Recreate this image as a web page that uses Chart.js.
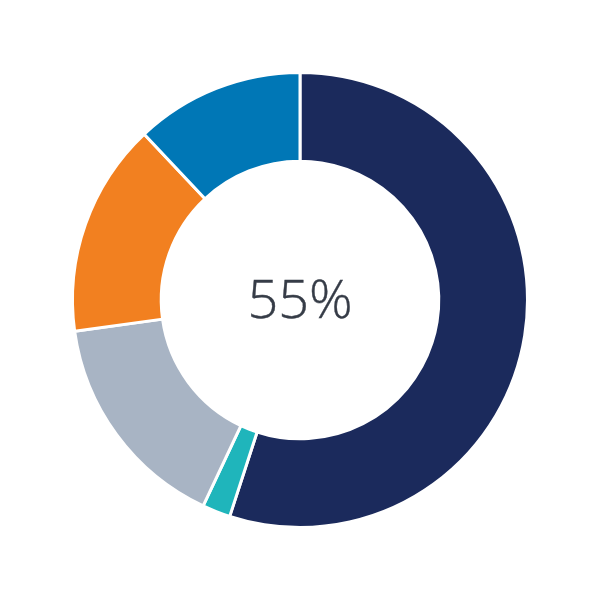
<!DOCTYPE html>
<html>
<head>
<meta charset="utf-8">
<script src="https://cdn.jsdelivr.net/npm/chart.js@4"></script>
<style>
html,body{margin:0;padding:0;background:#fff;}
#wrap{position:relative;width:600px;height:600px;}
#center{position:absolute;left:0;top:-3px;width:600px;height:600px;display:flex;align-items:center;justify-content:center;font-family:"Open Sans",sans-serif;font-weight:300;font-size:54px;color:#363c47;pointer-events:none;-webkit-text-stroke:0.4px #363c47;}
</style>
</head>
<body>
<div id="wrap"><canvas id="c" width="600" height="600"></canvas><div id="center"></div></div>
<script>
const categories = ["A", "B", "C", "D", "E"];
const values = [55, 2, 15.8, 15.2, 12];
const colors = ["#1b2a5c", "#1fb5bb", "#a8b4c4", "#f28020", "#0077b6"];
const centerLabel = "55%";

document.getElementById('center').textContent = centerLabel;
new Chart(document.getElementById('c'), {
  type: 'doughnut',
  data: {
    labels: categories,
    datasets: [{
      data: values,
      backgroundColor: colors,
      borderColor: '#ffffff',
      borderWidth: 3
    }]
  },
  options: {
    responsive: false,
    animation: false,
    cutout: '61%',
    layout: { padding: 71 },
    plugins: { legend: { display: false }, tooltip: { enabled: false } }
  }
});
</script>
</body>
</html>
